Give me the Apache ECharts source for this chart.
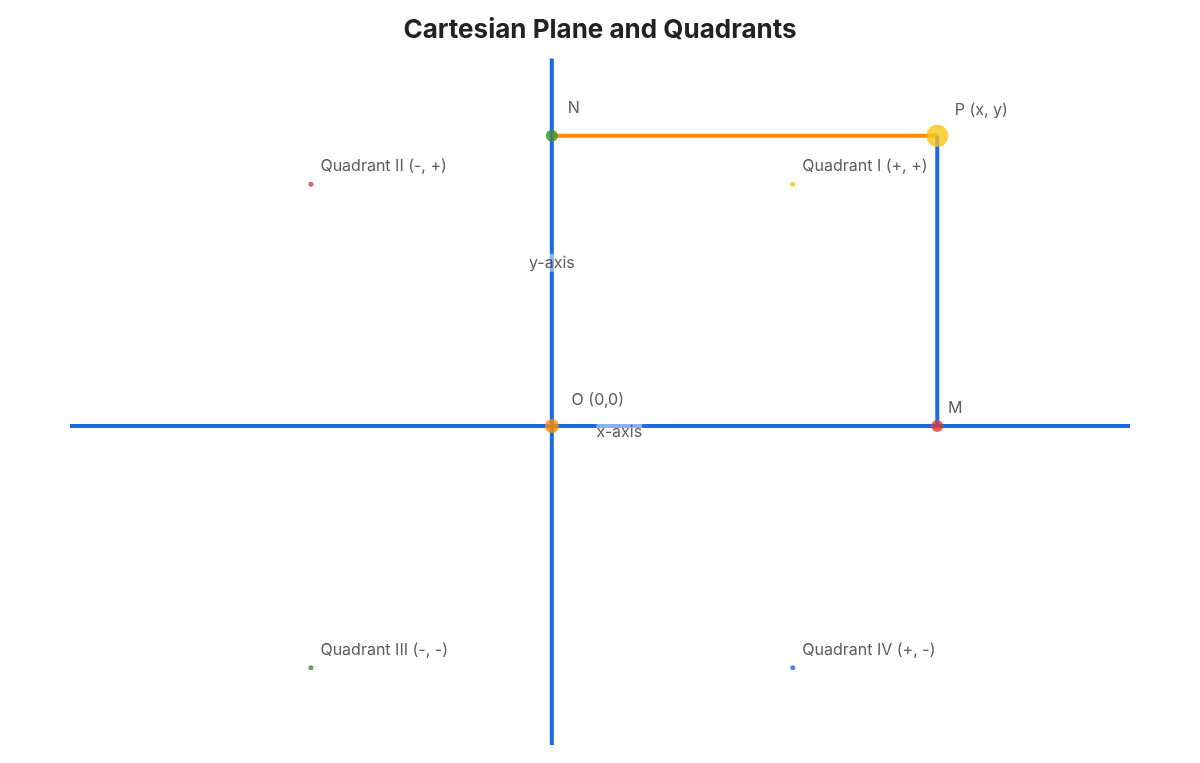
<!DOCTYPE html>
<html><head><meta charset="utf-8">
<script src="https://cdn.jsdelivr.net/npm/echarts@6/dist/echarts.min.js"></script>
<style>html,body{margin:0;padding:0;background:#fff}#c{width:1200px;height:763px}</style>
</head><body><div id="c"></div>
<script>
const xAxisLine = [[-5, 0], [6, 0]];
const yAxisLine = [[0, -3.3], [0, 3.8]];
const lineNP = [[0, 3], [4, 3]];
const linePM = [[4, 3], [4, 0]];
const keyPoints = [
  {name: 'N', value: [0, 3], color: '#3a8f3a', size: 12, offset: [22, -28]},
  {name: 'P (x, y)', value: [4, 3], color: '#f5c518', size: 22, offset: [44, -26]},
  {name: 'O (0,0)', value: [0, 0], color: '#ff8c00', size: 14, offset: [46, -26]},
  {name: 'M', value: [4, 0], color: '#d63c3c', size: 12, offset: [18, -18]}
];
const quadrants = [
  {name: 'Quadrant II (-, +)', value: [-2.5, 2.5], color: '#d63c3c'},
  {name: 'Quadrant I (+, +)', value: [2.5, 2.5], color: '#f5c518'},
  {name: 'Quadrant III (-, -)', value: [-2.5, -2.5], color: '#3a8f3a'},
  {name: 'Quadrant IV (+, -)', value: [2.5, -2.5], color: '#1a6ae6'}
];
const axisLabels = [
  {name: 'y-axis', value: [0, 1.75]},
  {name: 'x-axis', value: [0.7, 0]}
];
const F = 'Inter, "Noto Sans", sans-serif';
const chart = echarts.init(document.getElementById('c'));
const lineS = (d, c) => ({type: 'line', data: d, symbol: 'none', lineStyle: {color: c, width: 4}, z: 2, silent: true});
chart.setOption({
  animation: false,
  title: {text: 'Cartesian Plane and Quadrants', left: 'center', top: 12,
    textStyle: {fontFamily: F, fontSize: 26, fontWeight: 'bold', color: '#222'}},
  grid: {left: 70, width: 1060, top: 58.5, height: 686.6},
  xAxis: {type: 'value', min: -5, max: 6, show: false},
  yAxis: {type: 'value', min: -3.3, max: 3.8, show: false},
  series: [
    lineS(xAxisLine, '#1a6ae6'),
    lineS(yAxisLine, '#1a6ae6'),
    lineS(lineNP, '#ff8c00'),
    lineS(linePM, '#1a6ae6'),
    {type: 'scatter', z: 5, data: keyPoints.map(p => ({value: p.value, symbolSize: p.size,
      itemStyle: {color: p.color},
      label: {show: true, formatter: p.name, position: 'inside', offset: p.offset,
        fontFamily: F, fontSize: 16, color: '#333'}}))},
    {type: 'scatter', z: 5, data: quadrants.map(p => ({value: p.value, symbolSize: 5,
      itemStyle: {color: p.color},
      label: {show: true, formatter: p.name, position: 'right', offset: [2, -18],
        fontFamily: F, fontSize: 16, color: '#333'}}))},
    {type: 'scatter', z: 4, symbolSize: 0, data: axisLabels.map(p => ({value: p.value,
      label: {show: true, formatter: p.name, position: 'inside', offset: [0, 6],
        fontFamily: F, fontSize: 16, color: '#333', backgroundColor: 'rgba(255,255,255,0.6)', padding: [1, 0]}}))}
  ]
});
</script></body></html>
